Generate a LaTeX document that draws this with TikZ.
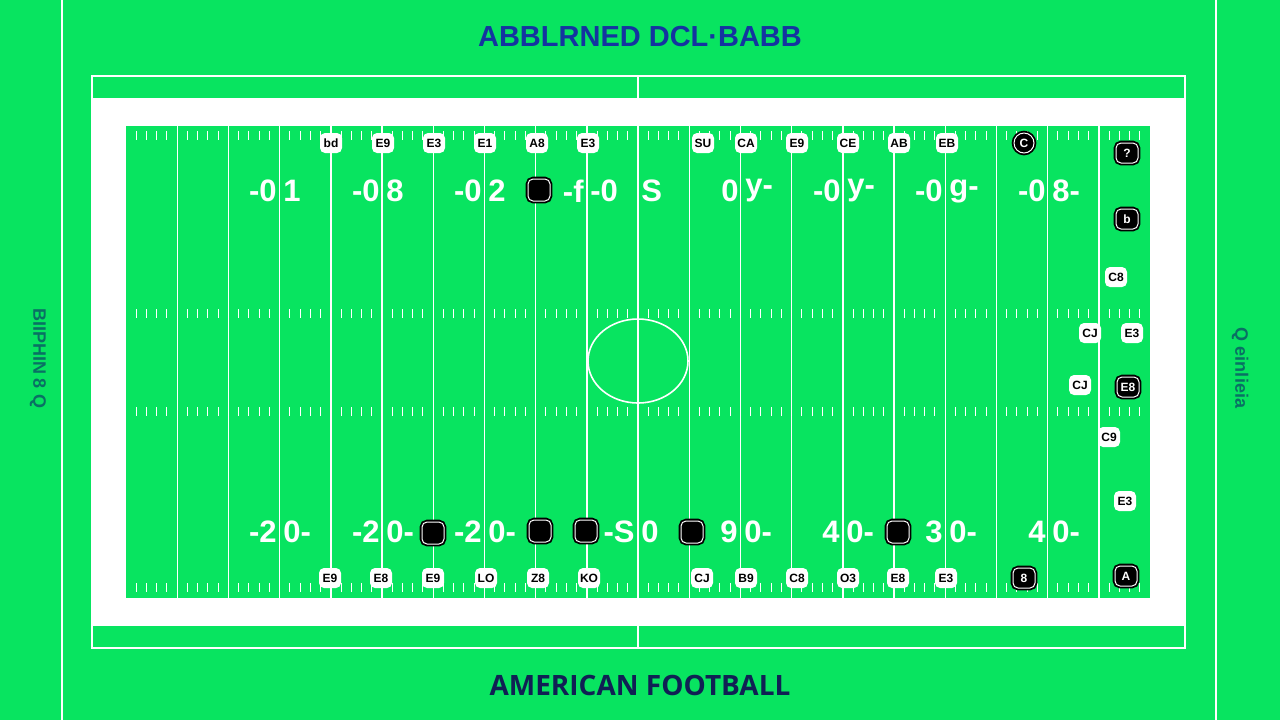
\documentclass[tikz,border=0pt]{standalone}
\usepackage{fontspec}
\setmainfont{Liberation Sans}
\newfontfamily\captionfont{Open Sans}
\definecolor{turf}{RGB}{8,228,96}
\definecolor{titleblue}{RGB}{20,52,160}
\definecolor{sideteal}{RGB}{10,112,100}
\definecolor{navy}{RGB}{16,32,84}
\begin{document}
\begin{tikzpicture}[x=0.5pt,y=-0.5pt,
    chalk/.style={white,line width=0.7pt},
    tag/.style={fill=white,rounded corners=2.5pt,inner sep=0.8pt,minimum width=11pt,minimum height=10pt,
                font=\bfseries\fontsize{6}{6}\selectfont,text=black},
    blacktag/.style={tag,fill=black,text=white,draw=black,double=white,double distance=0.5pt,line width=0.9pt},
    yardnum/.style={text=white,inner sep=0pt,font=\bfseries\fontsize{15.5}{15.5}\selectfont}]
    \fill[turf] (0,0) rectangle (1280,720);
    \useasboundingbox (0,0) rectangle (1280,720);

    % frame and field
    \draw[white,line width=1pt] (62,0) -- (62,720) (1216,0) -- (1216,720);
    \draw[white,line width=0.8pt] (92,76) rectangle (1185,648);
    \fill[white] (92,98) rectangle (1185,626);
    \fill[turf] (126,126) rectangle (1150,598);
    \draw[white,line width=0.8pt] (638,76) -- (638,98) (638,626) -- (638,648);

    % yard lines and hash marks
    \foreach \i in {1,...,19}
        \draw[chalk] ({126+51.2*\i},126) -- ({126+51.2*\i},598);
    \foreach \i in {0,...,19}
        \foreach \j in {1,...,4}
            \foreach \y in {131,309,407,583}
                \draw[white,line width=0.5pt] ({126+51.2*\i+10.24*\j},\y) -- ++(0,9);
    \draw[white,line width=0.8pt] (638,361) ellipse [x radius=50, y radius=42];

    % yard numbers
    \foreach \x/\l/\r in {280/-0/1, 383/-0/8, 485/-0/2, 587/-f/-0, 638//S,
                          742/0/y-, 844/-0/y-, 946/-0/g-, 1049/-0/8-} {
        \node[yardnum,anchor=east] at (\x-3,191) {\l};
        \node[yardnum,anchor=west] at (\x+3,191) {\r};
    }
    \foreach \x/\l/\r in {280/-2/0-, 383/-2/0-, 485/-2/0-, 638/-S/0,
                          741/9/0-, 843/4/0-, 946/3/0-, 1049/4/0-} {
        \node[yardnum,anchor=east] at (\x-3,532) {\l};
        \node[yardnum,anchor=west] at (\x+3,532) {\r};
    }

    % tags along the sidelines
    \foreach \x/\t [count=\n] in {331/bd, 383/E9, 434/E3, 485/E1, 537/A8, 588/E3,
                                  703/SU, 746/CA, 797/E9, 848/CE, 899/AB, 947/EB}
        \node[tag] (top\n) at (\x,143) {\t};
    \foreach \x/\t [count=\n] in {330/E9, 381/E8, 433/E9, 486/LO, 538/Z8, 589/KO,
                                  702/CJ, 746/B9, 797/C8, 848/O3, 898/E8, 946/E3}
        \node[tag] (bot\n) at (\x,578) {\t};
    \node[blacktag,circle,minimum size=10pt] (topend) at (1024,143) {C};
    \node[blacktag] (botend) at (1024,578) {8};

    % tags at the right end
    \node[blacktag] (r1) at (1127,153) {?};
    \node[blacktag] (r2) at (1127,219) {b};
    \node[tag] (r3) at (1116,277) {C8};
    \node[tag] (r4) at (1090,333) {CJ};
    \node[tag] (r5) at (1132,333) {E3};
    \node[tag] (r6) at (1080,385) {CJ};
    \node[blacktag] (r7) at (1128,387) {E8};
    \node[tag] (r8) at (1109,437) {C9};
    \node[tag] (r9) at (1125,501) {E3};
    \node[blacktag] (r10) at (1126,576) {A};

    % markers in the number rows
    \foreach \x/\y [count=\n] in {539/190, 433/533, 540/531, 586/531, 692/532, 898/532}
        \node[blacktag,minimum size=11pt] (m\n) at (\x,\y) {};

    % titles
    \node[text=titleblue,font=\bfseries\fontsize{14.5}{14.5}\selectfont] (title) at (640,37) {ABBLRNED DCL·BABB};
    \node[text=navy,font=\captionfont\bfseries\fontsize{14}{14}\selectfont] (caption) at (640,685) {AMERICAN FOOTBALL};
    \node[text=sideteal,rotate=-90,font=\bfseries\fontsize{9}{9}\selectfont] (left) at (38,358) {BIIPHIN 8 Q};
    \node[text=sideteal,rotate=-90,font=\bfseries\fontsize{9}{9}\selectfont] (right) at (1240,368) {Q einlieia};
\end{tikzpicture}
\end{document}
